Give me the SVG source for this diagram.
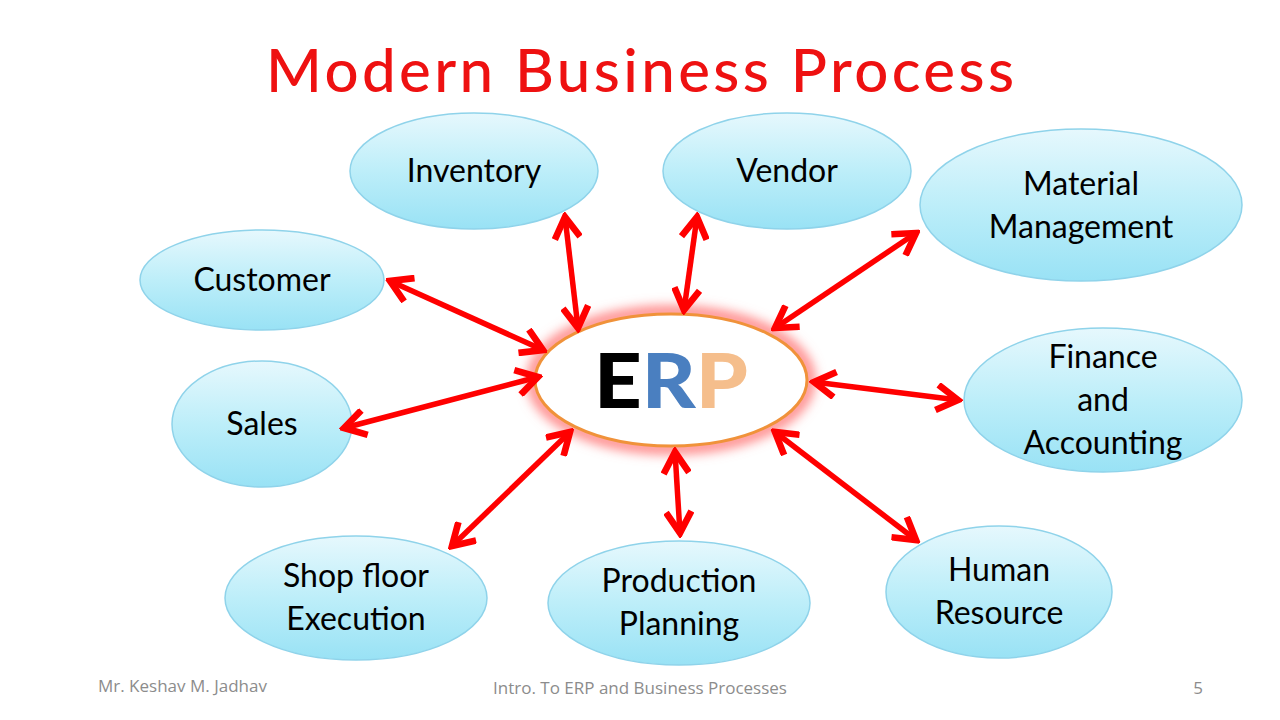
<svg xmlns="http://www.w3.org/2000/svg" width="1280" height="720" viewBox="0 0 1280 720">
<defs>
<linearGradient id="g" x1="0" y1="0" x2="0" y2="1">
<stop offset="0" stop-color="#e6f8fd"/><stop offset="0.5" stop-color="#bdeef9"/><stop offset="1" stop-color="#99e2f5"/>
</linearGradient>
<filter id="glow" x="-30%" y="-30%" width="160%" height="160%"><feGaussianBlur stdDeviation="6"/></filter>
<marker id="ah" viewBox="0 0 10 10" refX="8.5" refY="5" markerWidth="5.5" markerHeight="5.5" orient="auto-start-reverse" markerUnits="strokeWidth">
<path d="M1.5,0.8 L8.5,5 L1.5,9.2" fill="none" stroke="#ff0000" stroke-width="2.2"/>
</marker>
</defs>
<style>
.n{fill:url(#g);stroke:#8fd3ea;stroke-width:1.5}
.t{font-family:Lato,"Open Sans",sans-serif;font-size:32px;fill:#000;text-anchor:middle}
.c line{stroke:#ff0000;stroke-width:5.5;marker-start:url(#ah);marker-end:url(#ah)}
.f{font-family:"Open Sans",sans-serif;font-size:17px;fill:#8c8c8c}
</style>
<rect width="1280" height="720" fill="#fff"/>
<text x="266" y="92" font-family="Lato,sans-serif" font-size="60" fill="#ee1111" font-weight="500" textLength="748" lengthAdjust="spacing">Modern Business Process</text>
<g id="inventory"><ellipse class="n" cx="474" cy="171" rx="124" ry="58"/><text class="t" x="474" y="182">Inventory</text></g>
<g id="vendor"><ellipse class="n" cx="787" cy="171" rx="124" ry="58"/><text class="t" x="787" y="182">Vendor</text></g>
<g id="material"><ellipse class="n" cx="1081" cy="205" rx="161" ry="76"/><text class="t" x="1081" y="195">Material</text><text class="t" x="1081" y="238">Management</text></g>
<g id="customer"><ellipse class="n" cx="262" cy="280" rx="122" ry="50"/><text class="t" x="262" y="291">Customer</text></g>
<g id="sales"><ellipse class="n" cx="262" cy="424" rx="90" ry="63"/><text class="t" x="262" y="435">Sales</text></g>
<g id="finance"><ellipse class="n" cx="1103" cy="400" rx="139" ry="72"/><text class="t" x="1103" y="368">Finance</text><text class="t" x="1103" y="411">and</text><text class="t" x="1103" y="454">Accounting</text></g>
<g id="shopfloor"><ellipse class="n" cx="356" cy="598" rx="131" ry="62"/><text class="t" x="356" y="587">Shop floor</text><text class="t" x="356" y="630">Execution</text></g>
<g id="production"><ellipse class="n" cx="679" cy="603" rx="131" ry="62"/><text class="t" x="679" y="592">Production</text><text class="t" x="679" y="635">Planning</text></g>
<g id="hr"><ellipse class="n" cx="999" cy="592" rx="113" ry="66"/><text class="t" x="999" y="581">Human</text><text class="t" x="999" y="624">Resource</text></g>
<g id="erp">
<ellipse cx="671" cy="380" rx="138" ry="68" fill="none" stroke="#ff8080" stroke-width="12" filter="url(#glow)"/>
<ellipse cx="671" cy="380" rx="136" ry="66" fill="#fff" stroke="#f0923a" stroke-width="3"/>
<text x="671" y="408" font-family="Lato,sans-serif" font-weight="900" font-size="76" text-anchor="middle" textLength="154" lengthAdjust="spacingAndGlyphs"><tspan fill="#000">E</tspan><tspan fill="#4a7fc0">R</tspan><tspan fill="#f5be8c">P</tspan></text>
</g>
<g class="c" id="connectors">
<line x1="565" y1="217" x2="578" y2="328"/>
<line x1="697" y1="217" x2="684" y2="310"/>
<line x1="916" y1="233" x2="775" y2="328"/>
<line x1="390" y1="281" x2="543" y2="350"/>
<line x1="344" y1="428" x2="538" y2="377"/>
<line x1="814" y1="382" x2="958" y2="400"/>
<line x1="452" y1="546" x2="570" y2="432"/>
<line x1="675" y1="452" x2="680" y2="533"/>
<line x1="775" y1="432" x2="916" y2="540"/>
</g>
<text class="f" x="98" y="692">Mr. Keshav M. Jadhav</text>
<text class="f" x="640" y="694" text-anchor="middle">Intro. To ERP and Business  Processes</text>
<text class="f" x="1198" y="694" text-anchor="middle">5</text>
</svg>
